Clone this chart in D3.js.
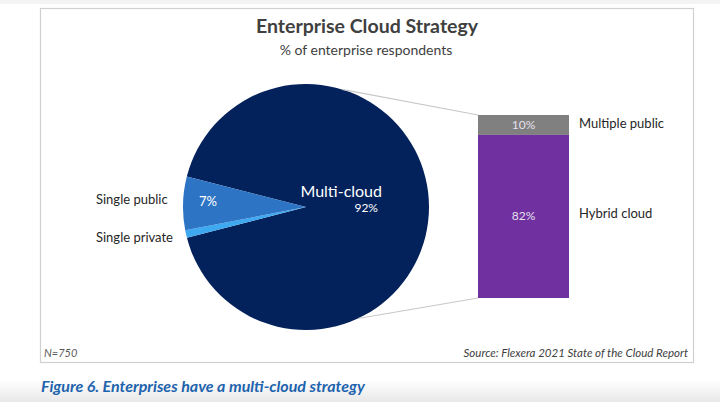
<!DOCTYPE html>
<html>
<head>
<meta charset="utf-8">
<script src="https://cdn.jsdelivr.net/npm/d3@7/dist/d3.min.js"></script>
<style>
  body { margin: 0; background: #fff; }
  svg { display: block; font-family: Lato, "Open Sans", sans-serif; }
</style>
</head>
<body>
<div id="chart"></div>
<script>
// pie slices (order drawn clockwise from startAngle)
const pieLabels = ['Multi-cloud', 'Single private', 'Single public'];
const pieValues = [92, 1, 7];
const pieColors = ['#03215b', '#3ea8f0', '#2e74c4'];

// breakdown of the multi-cloud slice, stacked top to bottom
const barLabels = ['Multiple public', 'Hybrid cloud'];
const barValues = [10, 82];
const barColors = ['#808080', '#7030a0'];

const width = 720, height = 402;

const svg = d3.select('#chart')
  .append('svg')
  .attr('width', width)
  .attr('height', height);

// faint page shading behind the figure
const defs = svg.append('defs');
const grad = defs.append('linearGradient')
  .attr('id', 'pageShade')
  .attr('x1', 0).attr('y1', 0).attr('x2', 0).attr('y2', 1);
grad.append('stop').attr('offset', '0%').attr('stop-color', '#ffffff');
grad.append('stop').attr('offset', '100%').attr('stop-color', '#e8e8e8');
svg.append('rect')
  .attr('x', 0).attr('y', 380)
  .attr('width', width).attr('height', 22)
  .attr('fill', 'url(#pageShade)');
svg.append('rect')
  .attr('x', 0).attr('y', 0)
  .attr('width', width).attr('height', 4)
  .attr('fill', '#f4f4f4');

// chart frame
svg.append('rect')
  .attr('x', 40.5).attr('y', 8.5)
  .attr('width', 653).attr('height', 354)
  .attr('fill', '#fff')
  .attr('stroke', '#d0d0d0')
  .attr('stroke-width', 1.2);

svg.append('text')
  .attr('x', 367).attr('y', 33)
  .attr('text-anchor', 'middle')
  .attr('font-size', 19.5)
  .attr('font-weight', 'bold')
  .attr('fill', '#404040')
  .text('Enterprise Cloud Strategy');

svg.append('text')
  .attr('x', 366).attr('y', 55)
  .attr('text-anchor', 'middle')
  .attr('font-size', 14)
  .attr('fill', '#404040')
  .text('% of enterprise respondents');

// pie
const cx = 306, cy = 207, r = 123;
const deg = Math.PI / 180;
const pie = d3.pie().sort(null)
  .startAngle(-75.7 * deg)
  .endAngle(284.3 * deg);
const arcs = pie(pieValues);
const arc = d3.arc().innerRadius(0).outerRadius(r);

const pieG = svg.append('g').attr('transform', `translate(${cx},${cy})`);
pieG.selectAll('path')
  .data(arcs)
  .enter()
  .append('path')
  .attr('d', arc)
  .attr('fill', (d, i) => pieColors[i]);

// stacked bar
const barX = 478, barW = 91;
const y = d3.scaleLinear()
  .domain([0, d3.sum(barValues)])
  .range([115, 298]);
let acc = 0;
const stacks = barValues.map((v, i) => {
  const s = { label: barLabels[i], value: v, y0: acc, y1: acc + v, color: barColors[i] };
  acc += v;
  return s;
});

// connector lines from pie to bar
const topPt = [cx + r * Math.sin(17 * deg), cy - r * Math.cos(17 * deg)];
const botPt = [cx + r * Math.sin(155 * deg), cy - r * Math.cos(155 * deg)];
svg.append('line')
  .attr('x1', topPt[0]).attr('y1', topPt[1])
  .attr('x2', barX).attr('y2', y(0))
  .attr('stroke', '#c8c8c8').attr('stroke-width', 1.2);
svg.append('line')
  .attr('x1', botPt[0]).attr('y1', botPt[1])
  .attr('x2', barX).attr('y2', y(acc))
  .attr('stroke', '#c8c8c8').attr('stroke-width', 1.2);

svg.selectAll('.stack')
  .data(stacks)
  .enter()
  .append('rect')
  .attr('class', 'stack')
  .attr('x', barX)
  .attr('y', d => y(d.y0))
  .attr('width', barW)
  .attr('height', d => y(d.y1) - y(d.y0))
  .attr('fill', d => d.color);

svg.selectAll('.stackPct')
  .data(stacks)
  .enter()
  .append('text')
  .attr('x', barX + barW / 2)
  .attr('y', d => (y(d.y0) + y(d.y1)) / 2 + 4)
  .attr('text-anchor', 'middle')
  .attr('font-size', 12)
  .attr('fill', '#e6e0ee')
  .text(d => d.value + '%');

svg.selectAll('.stackLabel')
  .data(stacks)
  .enter()
  .append('text')
  .attr('x', 579)
  .attr('y', d => d.y0 === 0 ? 128 : 218)
  .attr('font-size', 13)
  .attr('fill', '#262626')
  .text(d => d.label);

// pie labels
svg.append('text')
  .attr('x', 382).attr('y', 197)
  .attr('text-anchor', 'end')
  .attr('font-size', 16)
  .attr('fill', '#ffffff')
  .text(pieLabels[0]);
svg.append('text')
  .attr('x', 378).attr('y', 212)
  .attr('text-anchor', 'end')
  .attr('font-size', 12)
  .attr('fill', '#ffffff')
  .text(pieValues[0] + '%');

svg.append('text')
  .attr('x', 208).attr('y', 206)
  .attr('text-anchor', 'middle')
  .attr('font-size', 13)
  .attr('fill', '#ffffff')
  .text(pieValues[2] + '%');

svg.append('text')
  .attr('x', 96).attr('y', 204)
  .attr('font-size', 13)
  .attr('fill', '#262626')
  .text(pieLabels[2]);
svg.append('text')
  .attr('x', 96).attr('y', 242)
  .attr('font-size', 13)
  .attr('fill', '#262626')
  .text(pieLabels[1]);

// footnotes
svg.append('text')
  .attr('x', 44).attr('y', 357)
  .attr('font-size', 11)
  .attr('font-style', 'italic')
  .attr('fill', '#595959')
  .text('N=750');
svg.append('text')
  .attr('x', 688).attr('y', 357)
  .attr('text-anchor', 'end')
  .attr('font-size', 11.5)
  .attr('font-style', 'italic')
  .attr('fill', '#404040')
  .text('Source: Flexera 2021 State of the Cloud Report');

svg.append('text')
  .attr('x', 41).attr('y', 392)
  .attr('font-size', 16)
  .attr('font-style', 'italic')
  .attr('font-weight', 'bold')
  .attr('fill', '#1d63ad')
  .text('Figure 6. Enterprises have a multi-cloud strategy');
</script>
</body>
</html>
